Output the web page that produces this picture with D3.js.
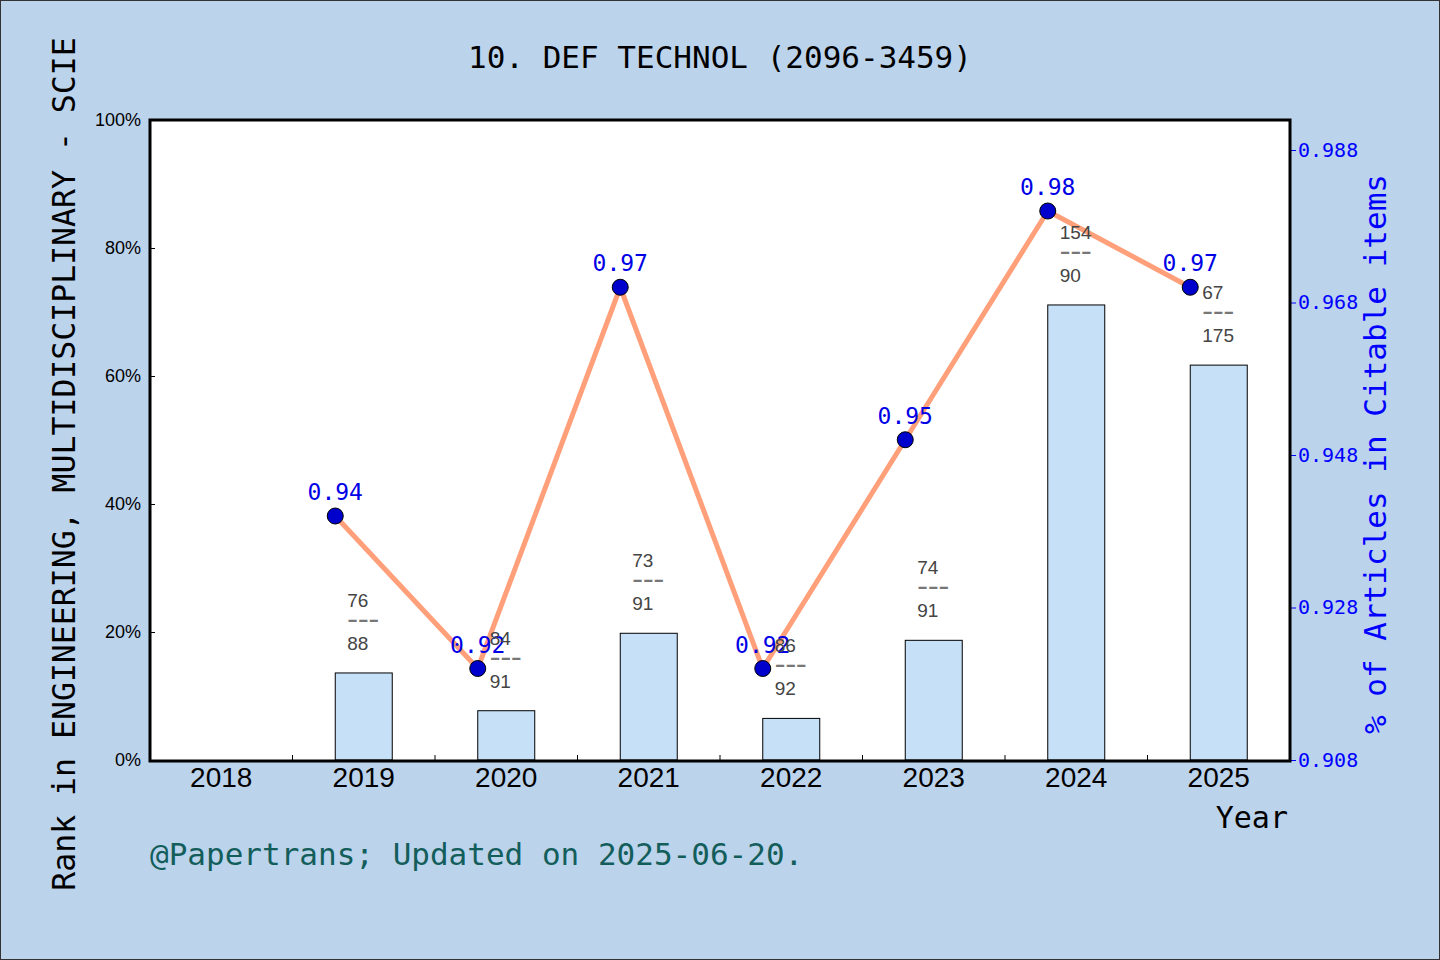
<!DOCTYPE html>
<html>
<head>
<meta charset="utf-8">
<script src="https://cdn.jsdelivr.net/npm/d3@7"></script>
<style>
  body { margin: 0; background: #bcd3ec; }
  svg { display: block; }
</style>
</head>
<body>
<div id="chart-area"></div>
<script>
// chart data
const years = ['2018', '2019', '2020', '2021', '2022', '2023', '2024', '2025'];
const rankPct = [null, 13.6, 7.7, 19.8, 6.5, 18.7, 71.1, 61.7];
const rankNum = [null, 76, 84, 73, 86, 74, 154, 67];
const rankTotal = [null, 88, 91, 91, 92, 91, 90, 175];
const citable = [null, 0.94, 0.92, 0.97, 0.92, 0.95, 0.98, 0.97];
const rightTicks = [0.908, 0.928, 0.948, 0.968, 0.988];
const leftTicks = [0, 20, 40, 60, 80, 100];

let width = 1440;
let height = 960;
let margin = { top: 120, right: 150, bottom: 200, left: 150 };
let innerW = width - margin.left - margin.right;
let innerH = height - margin.top - margin.bottom;

const mono = "'DejaVu Sans Mono', monospace";
const sans = "'Liberation Sans', Arial, sans-serif";

let svg = d3
  .select('#chart-area')
  .append('svg')
  .attr('width', width)
  .attr('height', height);

svg.append('rect')
  .attr('x', 0.5).attr('y', 0.5)
  .attr('width', width - 1).attr('height', height - 1)
  .attr('fill', '#bcd3ec')
  .attr('stroke', '#333');

let data = years.map((y, i) => ({
  year: y,
  pct: rankPct[i],
  num: rankNum[i],
  total: rankTotal[i],
  cit: citable[i],
}));

let x = d3.scaleBand().domain(years).range([0, innerW]).padding(0);
let yL = d3.scaleLinear().domain([0, 100]).range([innerH, 0]);
let yR = d3.scaleLinear().domain([0.908, 0.988]).range([innerH, innerH - 610]);

let barW = x.bandwidth() * 0.4;
let barX = (d) => x(d.year) + x.bandwidth() / 2 - barW / 2;

let g = svg.append('g').attr('transform', `translate(${margin.left},${margin.top})`);

// plot background
g.append('rect').attr('width', innerW).attr('height', innerH).attr('fill', '#fff');

// bars
let withBars = data.filter((d) => d.pct != null);
g.selectAll('.bar')
  .data(withBars)
  .enter()
  .append('rect')
  .attr('class', 'bar')
  .attr('x', barX)
  .attr('y', (d) => yL(d.pct))
  .attr('width', barW)
  .attr('height', (d) => innerH - yL(d.pct))
  .attr('fill', '#c6e0f7')
  .attr('stroke', '#000')
  .attr('stroke-width', 1);

// citable line
let withLine = data.filter((d) => d.cit != null);
let line = d3.line().x((d) => barX(d)).y((d) => yR(d.cit));
g.append('path')
  .datum(withLine)
  .attr('d', line)
  .attr('fill', 'none')
  .attr('stroke', '#ffa07a')
  .attr('stroke-width', 5)
  .attr('stroke-linejoin', 'round');

g.selectAll('.pt')
  .data(withLine)
  .enter()
  .append('circle')
  .attr('cx', barX)
  .attr('cy', (d) => yR(d.cit))
  .attr('r', 8)
  .attr('fill', '#0000cc')
  .attr('stroke', '#000')
  .attr('stroke-width', 1);

g.selectAll('.val')
  .data(withLine)
  .enter()
  .append('text')
  .attr('x', barX)
  .attr('y', (d) => yR(d.cit) - 16)
  .attr('text-anchor', 'middle')
  .style('font-family', mono).style('font-size', '23px')
  .attr('fill', '#0000e6')
  .text((d) => d3.format('.2f')(d.cit));

// rank fraction labels, drawn on top like the original
let lab = g.selectAll('.rank').data(withBars).enter().append('g')
  .attr('transform', (d) => `translate(${barX(d) + 12},${yL(d.pct)})`);
lab.append('text')
  .attr('y', -66)
  .style('font-family', sans).style('font-size', '19px').attr('fill', '#444')
  .text((d) => d.num);
lab.append('text')
  .attr('y', -47)
  .attr('textLength', 32).attr('lengthAdjust', 'spacingAndGlyphs')
  .style('font-family', sans).style('font-size', '19px').style('font-weight', 'bold').attr('fill', '#777')
  .text('---');
lab.append('text')
  .attr('y', -23)
  .style('font-family', sans).style('font-size', '19px').attr('fill', '#444')
  .text((d) => d.total);

// left axis, ticks point inward
let axL = g.append('g')
  .call(d3.axisLeft(yL).tickValues(leftTicks).tickSize(-5).tickPadding(9).tickFormat((d) => d + '%'));
axL.select('.domain').remove();
axL.selectAll('text').style('font-family', sans).style('font-size', '18px').attr('fill', '#000');

// bottom axis labels at band centres
let axB = g.append('g')
  .attr('transform', `translate(0,${innerH})`)
  .call(d3.axisBottom(x).tickSize(0).tickPadding(7));
axB.select('.domain').remove();
axB.selectAll('text').style('font-family', sans).style('font-size', '28px').attr('fill', '#000');

// small inward ticks between years
g.selectAll('.btick')
  .data(years.slice(1))
  .enter()
  .append('line')
  .attr('x1', (d) => x(d)).attr('x2', (d) => x(d))
  .attr('y1', innerH).attr('y2', innerH - 5)
  .attr('stroke', '#000');

// right axis
let axR = g.append('g')
  .attr('transform', `translate(${innerW},0)`)
  .call(d3.axisRight(yR).tickValues(rightTicks).tickSize(6).tickPadding(2).tickFormat(d3.format('.3f')));
axR.select('.domain').remove();
axR.selectAll('line').attr('stroke', '#0000ff');
axR.selectAll('text').style('font-family', mono).style('font-size', '20px').attr('fill', '#0000ff');

// frame
g.append('rect')
  .attr('width', innerW).attr('height', innerH + 1)
  .attr('fill', 'none').attr('stroke', '#000').attr('stroke-width', 3);

// titles
svg.append('text')
  .attr('x', 720).attr('y', 68)
  .attr('text-anchor', 'middle')
  .style('font-family', mono).style('font-size', '31px')
  .text('10. DEF TECHNOL (2096-3459)');

svg.append('text')
  .attr('transform', 'translate(75,464) rotate(-90)')
  .attr('text-anchor', 'middle')
  .style('font-family', mono).style('font-size', '31.5px')
  .text('Rank in ENGINEERING, MULTIDISCIPLINARY - SCIE');

svg.append('text')
  .attr('transform', 'translate(1386,454) rotate(-90)')
  .attr('text-anchor', 'middle')
  .style('font-family', mono).style('font-size', '31px')
  .attr('fill', '#0000ff')
  .text('% of Articles in Citable items');

svg.append('text')
  .attr('x', 1288).attr('y', 828)
  .attr('text-anchor', 'end')
  .style('font-family', mono).style('font-size', '30px')
  .text('Year');

svg.append('text')
  .attr('x', 150).attr('y', 865)
  .style('font-family', mono).style('font-size', '31px')
  .attr('fill', '#135e5b')
  .text('@Papertrans; Updated on 2025-06-20.');
</script>
</body>
</html>
